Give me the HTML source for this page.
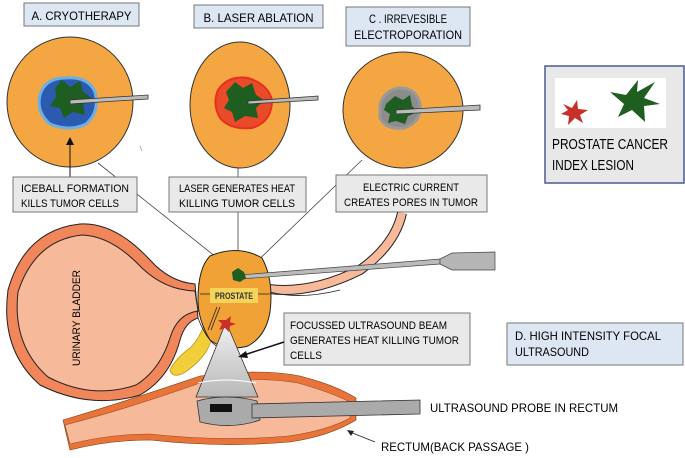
<!DOCTYPE html>
<html><head><meta charset="utf-8"><style>
html,body{margin:0;padding:0;background:#fff;}
svg{display:block;font-family:"Liberation Sans",sans-serif;}
</style></head><body>
<svg width="685" height="458" viewBox="0 0 685 458" xmlns="http://www.w3.org/2000/svg">
<defs>
<linearGradient id="bm" x1="0" y1="0" x2="0" y2="1"><stop offset="0" stop-color="#f2f2f2"/><stop offset="1" stop-color="#b8b8b8"/></linearGradient>
</defs>
<!-- title boxes -->
<rect x="24" y="3" width="115" height="23" fill="#dde6f3" stroke="#777" stroke-width="1"/>
<text x="81.5" y="20" font-size="12" text-anchor="middle" textLength="100" lengthAdjust="spacingAndGlyphs">A. CRYOTHERAPY</text>
<rect x="194" y="5" width="129" height="23" fill="#dde6f3" stroke="#777"/>
<text x="258.5" y="22" font-size="12" text-anchor="middle" textLength="110" lengthAdjust="spacingAndGlyphs">B. LASER ABLATION</text>
<rect x="346" y="7" width="124" height="39" fill="#dde6f3" stroke="#777"/>
<text x="408" y="23" font-size="12" text-anchor="middle" textLength="78" lengthAdjust="spacingAndGlyphs">C . IRREVESIBLE</text>
<text x="408" y="39" font-size="12" text-anchor="middle" textLength="108" lengthAdjust="spacingAndGlyphs">ELECTROPORATION</text>

<!-- connector lines -->
<line x1="98" y1="163" x2="236" y2="273" stroke="#444" stroke-width="0.8"/>
<line x1="238" y1="168" x2="238" y2="272" stroke="#444" stroke-width="0.8"/>
<line x1="362" y1="160" x2="245" y2="273" stroke="#444" stroke-width="0.8"/>

<!-- circle A -->
<ellipse cx="70" cy="102" rx="63" ry="65" fill="#f3a642" stroke="#333" stroke-width="1"/>
<path d="M40 95 Q45 78 65 78 Q88 76 95 92 Q100 112 86 124 Q70 132 50 124 Q36 112 40 95Z" fill="#2a5bb0" stroke="#6ab0e6" stroke-width="3"/>
<path d="M55 88 L62 80 L70 87 L80 81 L83 92 L92 98 L83 104 L85 115 L73 112 L64 118 L60 108 L50 106 L56 97Z" fill="#1e5e20"/>
<polygon points="70,100 148,95 148,99 70,104" fill="#bbb" stroke="#333" stroke-width="0.8"/>
<!-- circle B -->
<ellipse cx="240" cy="105" rx="50" ry="63" fill="#f3a642" stroke="#333"/>
<path d="M218 90 Q228 75 248 78 Q268 84 272 100 Q272 122 252 128 Q230 130 220 118 Q212 104 218 90Z" fill="#e84a2a" stroke="#e8301e" stroke-width="2"/>
<path d="M226 92 L235 82 L243 88 L252 83 L256 95 L264 100 L256 108 L258 118 L245 116 L235 122 L232 112 L224 108 L229 100Z" fill="#1e5e20"/>
<polygon points="248,101 318,96 318,100 248,104" fill="#bbb" stroke="#333" stroke-width="0.8"/>
<!-- circle C -->
<ellipse cx="403" cy="110" rx="60" ry="58" fill="#f3a642" stroke="#333"/>
<path d="M380 105 Q384 90 400 88 Q416 88 420 104 Q422 122 404 128 Q386 130 380 118Z" fill="#8c8c8c" stroke="#999" stroke-width="3"/>
<path d="M386 104 L395 96 L403 100 L410 95 L412 106 L418 112 L408 116 L405 124 L396 121 L388 123 L390 114 L384 110Z" fill="#1e5e20"/>
<polygon points="396,110 480,105 480,110 396,114" fill="#bbb" stroke="#333" stroke-width="0.8"/>
<line x1="140" y1="146" x2="142" y2="151" stroke="#999" stroke-width="0.8"/>

<!-- arrow up -->
<line x1="70" y1="177" x2="70" y2="144" stroke="#111" stroke-width="1"/>
<polygon points="66,145 74,145 70,137" fill="#111"/>

<!-- label boxes -->
<rect x="13" y="177" width="124" height="35" fill="#e9e9e9" stroke="#777"/>
<text x="75" y="192" font-size="11" text-anchor="middle" textLength="108" lengthAdjust="spacingAndGlyphs">ICEBALL  FORMATION</text>
<text x="70" y="207" font-size="11" text-anchor="middle" textLength="98" lengthAdjust="spacingAndGlyphs">KILLS TUMOR CELLS</text>
<rect x="169" y="177" width="137" height="35" fill="#e9e9e9" stroke="#777"/>
<text x="237" y="192" font-size="11" text-anchor="middle" textLength="116" lengthAdjust="spacingAndGlyphs">LASER GENERATES HEAT</text>
<text x="237" y="207" font-size="11" text-anchor="middle" textLength="116" lengthAdjust="spacingAndGlyphs">KILLING TUMOR CELLS</text>
<rect x="336" y="175" width="151" height="37" fill="#e9e9e9" stroke="#777"/>
<text x="411" y="191" font-size="11" text-anchor="middle" textLength="96" lengthAdjust="spacingAndGlyphs">ELECTRIC CURRENT</text>
<text x="411" y="206" font-size="11" text-anchor="middle" textLength="134" lengthAdjust="spacingAndGlyphs">CREATES PORES IN TUMOR</text>

<!-- legend -->
<rect x="545" y="66" width="139" height="117" fill="#e8e8e8" stroke="#4a5a8a" stroke-width="1.5"/>
<rect x="555" y="78" width="111" height="50" fill="#fff"/>
<polygon points="563,104 572,108 577,100 578,109 588,110 580,115 583,123 575,118 568,125 569,116 561,114 568,110" fill="#c8302a"/>
<polygon points="610,92 626,95 638,80 637,92 655,82 644,98 660,104 644,106 645,122 632,110 618,117 624,104" fill="#1e5e20"/>
<text x="552" y="149" font-size="15" textLength="116" lengthAdjust="spacingAndGlyphs">PROSTATE CANCER</text>
<text x="552" y="170" font-size="15" textLength="82" lengthAdjust="spacingAndGlyphs">INDEX LESION</text>

<!-- urethra tube up-right -->
<path d="M200 288 Q230 275 250 285 Q300 300 360 270 Q395 245 402 213" fill="none" stroke="#222" stroke-width="10"/>
<path d="M200 288 Q230 275 250 285 Q300 300 360 270 Q395 245 402 213" fill="none" stroke="#f6b99a" stroke-width="8"/>

<!-- bladder -->
<path d="M195 284 Q170 282 150 260 Q115 222 80 224 Q25 230 8 290 Q0 350 40 385 Q90 410 140 395 Q170 378 180 340 Q185 322 198 318 Z" fill="#f1865a" stroke="#222" stroke-width="1"/>
<path d="M195 291 Q165 290 142 268 Q112 236 82 235 Q35 240 18 292 Q12 345 48 377 Q92 400 136 385 Q160 370 170 338 Q177 314 198 311 Z" fill="#f6b99a" stroke="#222" stroke-width="1"/>
<text transform="translate(80,318) rotate(-90)" font-size="11" text-anchor="middle" textLength="96" lengthAdjust="spacingAndGlyphs">URINARY  BLADDER</text>

<!-- yellow seminal vesicle -->
<path d="M206 320 Q200 338 190 348 Q176 358 170 370 Q172 378 182 374 Q196 366 206 352 Q214 338 214 324Z" fill="#f2cf3a" stroke="#b89a20" stroke-width="0.8"/>
<!-- prostate -->
<path d="M210 256 Q238 244 262 258 Q274 280 270 312 Q266 336 248 346 Q226 352 210 340 Q198 320 198 300 Q198 268 210 256Z" fill="#f0a236" stroke="#222" stroke-width="1"/>
<path d="M198 318 Q208 345 224 350" fill="none" stroke="#222" stroke-width="0.8"/>
<line x1="217" y1="307" x2="208" y2="330" stroke="#222" stroke-width="0.8"/>
<line x1="220" y1="307" x2="211" y2="330" stroke="#222" stroke-width="0.8"/>
<path d="M200 294 L270 294" stroke="#222" stroke-width="0.8"/>
<path d="M270 292 Q300 300 340 290" fill="none" stroke="#222" stroke-width="0.8"/>
<rect x="210" y="288" width="48" height="15" fill="#f5d45a"/>
<text x="234" y="299" font-size="9" font-weight="bold" text-anchor="middle" fill="#333" textLength="38" lengthAdjust="spacingAndGlyphs">PROSTATE</text>
<!-- needle -->
<polygon points="240,275 440,259 440,264 240,279" fill="#bbb" stroke="#444" stroke-width="0.7"/>
<path d="M440 259 L452 253 L495 252 L495 270 L452 270 L440 264Z" fill="#b5b5b5" stroke="#444" stroke-width="0.7"/>
<polygon points="232,272 238,268 244,272 246,278 240,282 233,280" fill="#1e5e20"/>

<!-- rectum -->
<path d="M63 420 Q130 400 200 376 Q260 368 300 376 Q335 385 356 398 L356 420 Q330 436 290 442 Q220 448 150 440 Q110 440 70 450 Z" fill="#e8743a" stroke="#7a3a1a" stroke-width="0.6"/>
<path d="M65 425 Q130 408 200 383 Q258 376 298 383 Q330 392 350 402 L350 418 Q326 431 288 436 Q222 442 150 434 Q110 434 70 444 Z" fill="#f6b99a" stroke="#9a4a22" stroke-width="0.6"/>
<!-- beam -->
<polygon points="226,322 196,397 258,397" fill="url(#bm)" stroke="#333" stroke-width="0.8"/>
<path d="M198 383 Q225 377 256 383" fill="none" stroke="#fff" stroke-width="1"/>
<polygon points="226,320 231,316 230,322 236,324 230,326 229,332 225,328 219,330 222,324 218,320" fill="#c8302a"/>
<!-- probe -->
<path d="M197 401 Q226 393 257 401 L260 420 Q232 430 200 422Z" fill="#aaa" stroke="#333" stroke-width="0.8"/>
<rect x="210" y="404" width="22" height="8" fill="#111"/>
<polygon points="252,404 420,400 420,414 252,418" fill="#aaa" stroke="#333" stroke-width="0.8"/>
<text x="430" y="412" font-size="12" textLength="188" lengthAdjust="spacingAndGlyphs">ULTRASOUND PROBE IN RECTUM</text>
<line x1="375" y1="442" x2="350" y2="432" stroke="#222" stroke-width="0.8"/>
<polygon points="347,430 354,431 351,436" fill="#222"/>
<text x="381" y="451" font-size="12" textLength="148" lengthAdjust="spacingAndGlyphs">RECTUM(BACK PASSAGE )</text>

<!-- focussed box -->
<rect x="284" y="313" width="186" height="52" fill="#e9e9e9" stroke="#777"/>
<text x="290" y="329" font-size="11" textLength="157" lengthAdjust="spacingAndGlyphs">FOCUSSED ULTRASOUND BEAM</text>
<text x="290" y="344" font-size="11" textLength="169" lengthAdjust="spacingAndGlyphs">GENERATES HEAT KILLING TUMOR</text>
<text x="290" y="359" font-size="11" textLength="32" lengthAdjust="spacingAndGlyphs">CELLS</text>
<line x1="284" y1="342" x2="244" y2="355" stroke="#111" stroke-width="1.5"/>
<polygon points="238,357 246,351 248,358" fill="#111"/>

<!-- D box -->
<rect x="507" y="323" width="176" height="42" fill="#dde6f3" stroke="#777"/>
<text x="515" y="340" font-size="12" textLength="146" lengthAdjust="spacingAndGlyphs">D. HIGH INTENSITY FOCAL</text>
<text x="515" y="356" font-size="12" textLength="74" lengthAdjust="spacingAndGlyphs">ULTRASOUND</text>
</svg>
</body></html>
